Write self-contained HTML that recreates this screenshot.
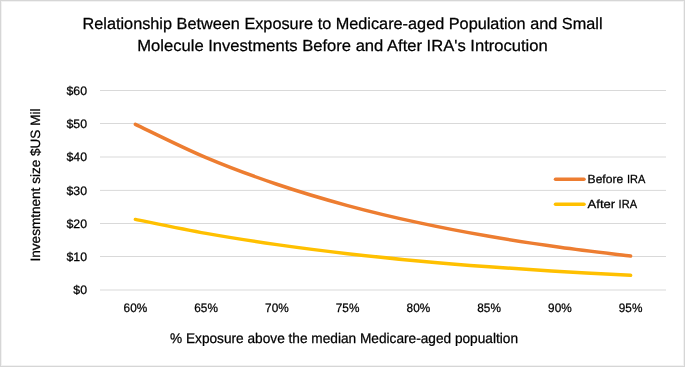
<!DOCTYPE html>
<html><head><meta charset="utf-8"><style>
html,body{margin:0;padding:0;background:#fff;}
svg{display:block;will-change:transform;}
text{text-rendering:geometricPrecision;font-family:"Liberation Sans",sans-serif;fill:#000;stroke:#000;stroke-width:0.25px;}
</style></head><body>
<svg width="685" height="367" viewBox="0 0 685 367">
<rect x="0" y="0" width="685" height="367" fill="#fff"/>
<rect x="1.5" y="1.5" width="682" height="364" fill="none" stroke="#f2f2f2" stroke-width="1"/>
<rect x="0.5" y="0.5" width="684" height="366" fill="none" stroke="#d6d6d6" stroke-width="1"/>
<g stroke="#d9d9d9" stroke-width="1"><line x1="100" y1="290.0" x2="666" y2="290.0"/><line x1="100" y1="256.5" x2="666" y2="256.5"/><line x1="100" y1="223.5" x2="666" y2="223.5"/><line x1="100" y1="190.4" x2="666" y2="190.4"/><line x1="100" y1="157.0" x2="666" y2="157.0"/><line x1="100" y1="123.5" x2="666" y2="123.5"/><line x1="100" y1="90.5" x2="666" y2="90.5"/></g>
<g font-size="16.1">
<text x="342.5" y="28.9" text-anchor="middle" textLength="520" lengthAdjust="spacingAndGlyphs">Relationship Between Exposure to Medicare-aged Population and Small</text>
<text x="342.5" y="50.8" text-anchor="middle" textLength="410.5" lengthAdjust="spacingAndGlyphs">Molecule Investments Before and After IRA's Introcution</text>
</g>
<g font-size="12.3"><text x="87" y="294.3" text-anchor="end">$0</text><text x="87" y="260.8" text-anchor="end">$10</text><text x="87" y="227.8" text-anchor="end">$20</text><text x="87" y="194.7" text-anchor="end">$30</text><text x="87" y="161.3" text-anchor="end">$40</text><text x="87" y="127.8" text-anchor="end">$50</text><text x="87" y="94.8" text-anchor="end">$60</text><text x="135.4" y="311.6" text-anchor="middle" textLength="23.6" lengthAdjust="spacingAndGlyphs">60%</text><text x="206.1" y="311.6" text-anchor="middle" textLength="23.6" lengthAdjust="spacingAndGlyphs">65%</text><text x="276.9" y="311.6" text-anchor="middle" textLength="23.6" lengthAdjust="spacingAndGlyphs">70%</text><text x="347.6" y="311.6" text-anchor="middle" textLength="23.6" lengthAdjust="spacingAndGlyphs">75%</text><text x="418.4" y="311.6" text-anchor="middle" textLength="23.6" lengthAdjust="spacingAndGlyphs">80%</text><text x="489.1" y="311.6" text-anchor="middle" textLength="23.6" lengthAdjust="spacingAndGlyphs">85%</text><text x="559.9" y="311.6" text-anchor="middle" textLength="23.6" lengthAdjust="spacingAndGlyphs">90%</text><text x="630.6" y="311.6" text-anchor="middle" textLength="23.6" lengthAdjust="spacingAndGlyphs">95%</text></g>
<g font-size="14">
<text x="170" y="342.9" textLength="348" lengthAdjust="spacingAndGlyphs">% Exposure above the median Medicare-aged popualtion</text>
<text transform="translate(40.1,261.5) rotate(-90)" x="0" y="0" font-size="13.5" textLength="153" lengthAdjust="spacingAndGlyphs">Invesmtnent size $US Mil</text>
</g>
<g fill="none" stroke-width="3.5" stroke-linecap="round" stroke-linejoin="round">
<path d="M135.38,124.34 C147.17,129.89 182.54,147.63 206.12,157.61 C229.71,167.59 253.29,176.25 276.88,184.25 C300.46,192.24 324.04,199.18 347.62,205.58 C371.21,211.98 394.79,217.53 418.38,222.66 C441.96,227.78 465.54,232.23 489.12,236.34 C512.71,240.44 536.29,244.00 559.88,247.29 C583.46,250.57 618.83,254.60 630.62,256.06" stroke="#ED7D31"/>
<path d="M135.38,219.40 C147.17,221.73 182.54,229.17 206.12,233.37 C229.71,237.58 253.29,241.24 276.88,244.62 C300.46,248.00 324.04,250.94 347.62,253.66 C371.21,256.39 394.79,258.75 418.38,260.94 C441.96,263.13 465.54,265.04 489.12,266.80 C512.71,268.56 536.29,270.09 559.88,271.51 C583.46,272.93 618.83,274.67 630.62,275.30" stroke="#FFC000"/>
<line x1="555.5" y1="179.3" x2="584" y2="179.3" stroke="#ED7D31"/>
<line x1="555.5" y1="204.3" x2="584" y2="204.3" stroke="#FFC000"/>
</g>
<g font-size="11.7">
<text x="587.6" y="183" textLength="35.6" lengthAdjust="spacingAndGlyphs">Before</text><text x="627" y="183" textLength="18.4" lengthAdjust="spacingAndGlyphs">IRA</text>
<text x="587.6" y="208.3" textLength="27.6" lengthAdjust="spacingAndGlyphs">After</text><text x="618.6" y="208.3" textLength="18.4" lengthAdjust="spacingAndGlyphs">IRA</text>
</g>
</svg>
</body></html>
